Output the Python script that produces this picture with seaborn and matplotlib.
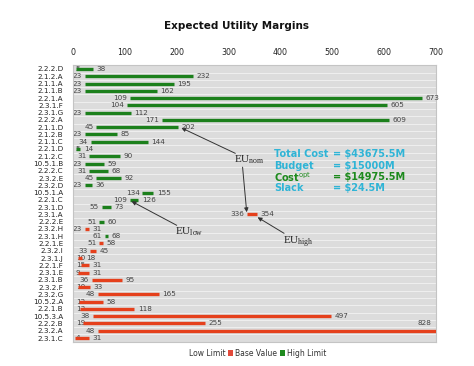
import matplotlib
matplotlib.use("Agg")
import matplotlib.pyplot as plt
from matplotlib.patches import Patch
import seaborn as sns
import pandas as pd

rows = ["2.2.2.D", "2.1.2.A", "2.1.1.A", "2.1.1.B", "2.2.1.A", "2.3.1.F", "2.3.1.G", "2.2.2.A",
        "2.1.1.D", "2.1.2.B", "2.1.1.C", "2.2.1.D", "2.1.2.C", "10.5.1.B", "2.2.2.C", "2.3.2.E",
        "2.3.2.D", "10.5.1.A", "2.2.1.C", "2.3.1.D", "2.3.1.A", "2.2.2.E", "2.3.2.H", "2.3.1.H",
        "2.2.1.E", "2.3.2.I", "2.3.1.J", "2.2.1.F", "2.3.1.E", "2.3.1.B", "2.3.2.F", "2.3.2.G",
        "10.5.2.A", "2.2.1.B", "10.5.3.A", "2.2.2.B", "2.3.2.A", "2.3.1.C"]
low = [5, 23, 23, 23, 109, 104, 23, 171, 45, 23, 34, 5, 31, 23, 31, 45, 23, 134, 109, 55,
       336, 51, 23, 61, 51, 33, 10, 15, 9, 36, 10, 48, 12, 13, 38, 19, 48, 4]
high = [38, 232, 195, 162, 673, 605, 112, 609, 202, 85, 144, 14, 90, 59, 68, 92, 36, 155, 126, 73,
        354, 60, 31, 68, 58, 45, 18, 31, 31, 95, 33, 165, 58, 118, 497, 255, 828, 31]
kind = (["High Limit"] * 20 + ["Base Value"] + ["High Limit", "Base Value", "High Limit"]
        + ["Base Value"] * 14)
xticks = [0, 100, 200, 300, 400, 500, 600, 700]

summary_keys = ["Total Cost", "Budget", "Cost$^{\\mathsf{opt}}$", "Slack"]
summary_vals = ["= $43675.5M", "= $15000M", "= $14975.5M", "= $24.5M"]

RED = "#e5401c"
GREEN = "#1c801c"
CYAN = "#2fb4d6"
TGREEN = "#1d8a1d"

plt.rcParams["mathtext.fontset"] = "custom"
plt.rcParams["mathtext.rm"] = "Liberation Serif"
plt.rcParams["mathtext.sf"] = "DejaVu Sans"

df = pd.DataFrame({"row": rows, "pos": range(len(rows)), "low": low, "high": high, "kind": kind})
long = df.melt(id_vars=["row", "pos", "kind"], value_vars=["low", "high"], value_name="value")

fig = plt.figure(figsize=(4.74, 3.66), dpi=100)
ax = fig.add_axes([73 / 474, 1 - 342 / 366, 363 / 474, 277 / 366])
ax.set_facecolor("#dcdcdc")

sns.lineplot(data=long, x="value", y="pos", hue="kind", units="row", estimator=None,
             sort=False, orient="y", palette={"High Limit": GREEN, "Base Value": RED},
             lw=2.4, legend=False, ax=ax, solid_capstyle="butt", zorder=3)

ax.set_xlim(0, 700)
ax.set_ylim(len(rows) - 0.45, -0.55)
ax.set_xlabel("")
ax.set_ylabel("")
ax.xaxis.tick_top()
ax.set_xticks(xticks)
ax.set_xticklabels([str(t) for t in xticks])
ax.set_yticks(range(len(rows)))
ax.set_yticklabels(rows)
ax.tick_params(axis="x", length=0, pad=6, labelsize=5.7, colors="#222222")
ax.tick_params(axis="y", length=0, pad=7, labelsize=5.2, colors="#222222")
ax.set_yticks([i + 0.5 for i in range(len(rows) - 1)], minor=True)
ax.tick_params(axis="y", which="minor", length=0)
ax.grid(False)
ax.grid(True, which="minor", axis="y", color="#eeeeee", lw=0.8)
ax.set_axisbelow(True)
for s in ax.spines.values():
    s.set_color("#c4c4c4")
    s.set_linewidth(0.8)

# value labels
for i, (lo, hi) in enumerate(zip(low, high)):
    nd = len(str(lo))
    if lo - 3 - nd * 8 < 3:
        ax.annotate(str(lo), xy=(0, i), xytext=(2, 0), textcoords="offset points",
                    ha="left", va="center", fontsize=5.2, color="#444444", zorder=2)
    else:
        ax.annotate(str(lo), xy=(lo, i), xytext=(-2, 0), textcoords="offset points",
                    ha="right", va="center", fontsize=5.2, color="#444444", zorder=2)
    if hi > 700:
        ax.annotate(str(hi), xy=(700, i - 1), xytext=(-3, 0), textcoords="offset points",
                    ha="right", va="center", fontsize=5.2, color="#444444", zorder=4)
    else:
        ax.annotate(str(hi), xy=(hi, i), xytext=(2.5, 0), textcoords="offset points",
                    ha="left", va="center", fontsize=5.2, color="#444444", zorder=4)

# EU annotations
arrow = dict(arrowstyle="-|>", lw=0.7, color="#333333", mutation_scale=6, shrinkA=0, shrinkB=0)
eu_font = dict(fontsize=8, family="Liberation Serif", color="#222222", va="center", ha="left")
ax.text(311, 12.4, "EU$_{\\mathrm{nom}}$", **eu_font)
ax.annotate("", xy=(209, 8.1), xytext=(313, 11.6), arrowprops=arrow)
ax.annotate("", xy=(335, 19.7), xytext=(327, 13.5), arrowprops=arrow)
ax.text(196, 22.4, "EU$_{\\mathrm{low}}$", **eu_font)
ax.annotate("", xy=(113, 18.2), xytext=(200, 21.5), arrowprops=arrow)
ax.text(404, 23.8, "EU$_{\\mathrm{high}}$", **eu_font)
ax.annotate("", xy=(356, 20.4), xytext=(407, 22.6), arrowprops=arrow)

# summary box
ys = [11.7, 13.3, 14.85, 16.4]
cols = [CYAN, CYAN, TGREEN, CYAN]
for y, k, v, c in zip(ys, summary_keys, summary_vals, cols):
    ax.text(388, y, k, fontsize=7, weight="bold", color=c, va="center", ha="left")
    ax.text(502, y, v, fontsize=7, weight="bold", color=c, va="center", ha="left")

fig.text(0.5, 1 - 26 / 366, "Expected Utility Margins", fontsize=7.5, weight="bold",
         ha="center", va="center", color="#111111")

handles = [Patch(facecolor="none", edgecolor="none"),
           Patch(facecolor="#e2493a", edgecolor="none"),
           Patch(facecolor="#1f8a1f", edgecolor="none")]
fig.legend(handles, ["Low Limit", "Base Value", "High Limit"], ncol=3, frameon=False,
           fontsize=5.5, handlelength=0.7, handleheight=0.7, handletextpad=0.3,
           columnspacing=0.3, loc="center", bbox_to_anchor=(254 / 474, 1 - 353 / 366),
           labelcolor="#333333")

fig.savefig("out.png", dpi=100)
